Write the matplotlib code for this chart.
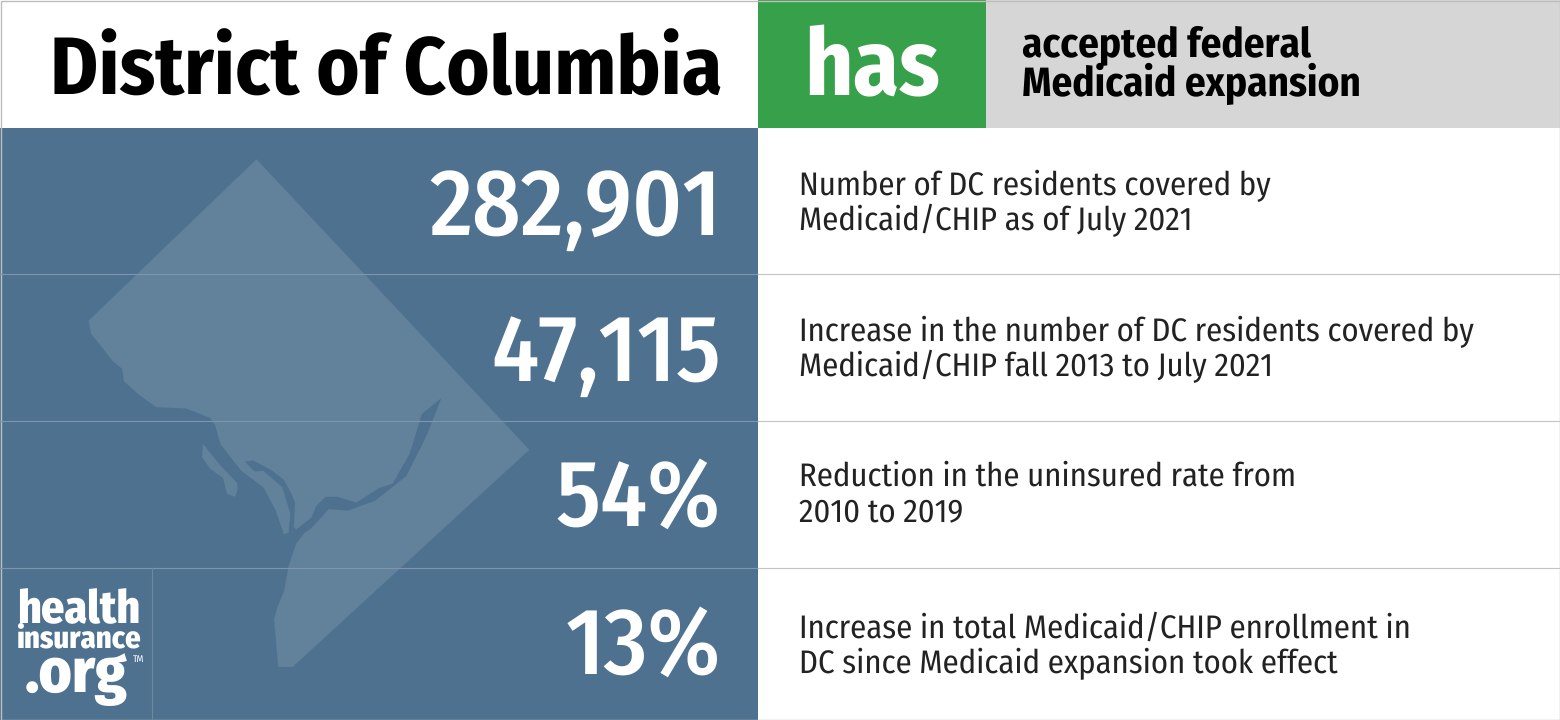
import matplotlib
matplotlib.use("Agg")
import matplotlib.pyplot as plt
from matplotlib.patches import Rectangle, Polygon

body_font = ["Fira Sans Condensed", "Lato", "DejaVu Sans"]
plt.rcParams["font.family"] = body_font
plt.rcParams["text.hinting"] = "none"

# table content
stat_values = ["282,901", "47,115", "54%", "13%"]
stat_labels = [
    ["Number of DC residents covered by", "Medicaid/CHIP as of July 2021"],
    ["Increase in the number of DC residents covered by", "Medicaid/CHIP fall 2013 to July 2021"],
    ["Reduction in the uninsured rate from", "2010 to 2019"],
    ["Increase in total Medicaid/CHIP enrollment in", "DC since Medicaid expansion took effect"],
]
row_tops = [128, 274, 421, 568, 720]
stat_baselines = [235, 381, 526, 674]
label_baselines = [195, 341, 486, 638]
title = "District of Columbia"
status = "has"
status_text = ["accepted federal", "Medicaid expansion"]

# outline of DC, pixel coordinates of the picture
dc_shape = [(256.5, 159.3), (529.3, 449.8), (292.7, 666.9), (278.2, 666.9), (274.1, 619.1), (277.2, 607.8),
            (284.1, 590.9), (288.6, 566.4), (296.1, 543.8), (304.8, 532.6), (311.6, 528), (328.9, 509.2),
            (347.8, 510.7), (375.3, 500.6), (406.3, 476.1), (427, 434.7), (441.5, 397.9), (421.8, 414),
            (409.8, 453.5), (392.6, 483.6), (378.8, 488.2), (356.4, 502.5), (337.5, 496.8), (325.4, 496.8),
            (316, 506.2), (311.6, 517.5), (296.1, 529.5), (293.7, 526.9), (295.1, 502.5), (291, 493),
            (284, 479.9), (272, 470.5), (253, 460.3), (245, 461.8), (254.8, 471.6), (263.4, 470.9),
            (282.4, 487.4), (290.3, 513.7), (288.6, 532.6), (284, 534.4), (275.5, 510), (263.4, 487.4),
            (241, 470.5), (220.4, 444.1), (215.2, 425.3), (210, 417.8), (186, 408.4), (156.7, 407.3),
            (139.5, 395.2), (124, 381.3), (122.2, 368.9), (113, 361.4), (91.3, 333.9), (88.5, 320.7)]
dc_island = [(203, 444), (220, 465), (237, 483), (237.6, 489.3), (235, 496.8), (227, 493.8),
             (223, 478), (210, 468.6), (202, 457)]

fig = plt.figure(figsize=(15.6, 7.2), dpi=100, facecolor="white")
ax = fig.add_axes([0, 0, 1, 1])
ax.set_xlim(0, 1560)
ax.set_ylim(720, 0)
ax.axis("off")

blue = "#4f7190"
shape_color = "#62819b"
ax.add_patch(Rectangle((0, 128), 758, 592, color=blue, lw=0))
ax.add_patch(Rectangle((758, 0), 228, 128, color="#37a04a", lw=0))
ax.add_patch(Rectangle((986, 0), 574, 128, color="#d6d6d6", lw=0))

ax.add_patch(Polygon(dc_shape, closed=True, color=shape_color, lw=0))
ax.add_patch(Polygon(dc_island, closed=True, color=shape_color, lw=0))

# row separators
for y in row_tops[1:-1]:
    ax.plot([0, 758], [y, y], color="#7d96ad", lw=0.8)
    ax.plot([758, 1560], [y, y], color="#c4c4c4", lw=0.8)
ax.plot([152, 152], [568, 720], color="#6c899f", lw=0.8)
ax.add_patch(Rectangle((0.5, 0.5), 1559, 719, fill=False, ec="#bdbdbd", lw=1))

ax.text(50, 95, title, ha="left", va="baseline", fontsize=58.7, fontweight="bold", color="black")
ax.text(872, 95, status, ha="center", va="baseline", fontsize=67, fontweight="bold", color="white")
ax.text(1022, 57, status_text[0], ha="left", va="baseline", fontsize=29.5, fontweight="bold", color="black")
ax.text(1022, 96, status_text[1], ha="left", va="baseline", fontsize=29.5, fontweight="bold", color="black")

for i in range(len(stat_values)):
    ax.text(721, stat_baselines[i], stat_values[i], ha="right", va="baseline", fontsize=68, fontweight=500, color="white")
    ax.text(799, label_baselines[i], stat_labels[i][0], ha="left", va="baseline", fontsize=23.5, color="#222222")
    ax.text(799, label_baselines[i] + 35, stat_labels[i][1], ha="left", va="baseline", fontsize=23.5, color="#222222")

# logo
ax.text(17, 623, "health", ha="left", va="baseline", fontsize=33, fontweight=800, color="white")
ax.text(16, 647, "insurance", ha="left", va="baseline", fontsize=22, fontweight=800, color="white")
ax.text(25, 692, ".org", ha="left", va="baseline", fontsize=45, fontweight=800, color="white")
ax.text(133, 662, "TM", ha="left", va="baseline", fontsize=7, color="white")

fig.savefig("out.png", dpi=100)
